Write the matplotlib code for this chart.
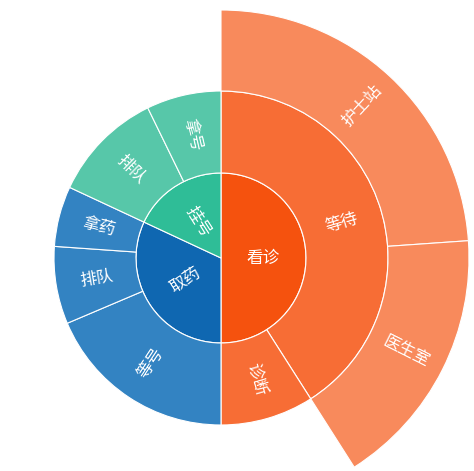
import matplotlib.pyplot as plt
from matplotlib.patches import Wedge
import numpy as np

plt.rcParams['font.family'] = ['Noto Sans CJK SC', 'DejaVu Sans']

# 数据(顺时针,从正上方开始)
inner_names = ['看诊', '取药', '挂号']
inner_values = [180, 115, 65]
inner_colors = ['#f5520e', '#0f67b1', '#2fbd97']

mid_names = ['等待', '诊断', '等号', '排队', '拿药', '排队', '拿号']
mid_values = [147.5, 32.5, 67, 27, 21, 39, 26]
mid_colors = ['#f76d35', '#f76d35', '#3383c2', '#3383c2', '#3383c2', '#57c7a9', '#57c7a9']

outer_names = ['护士站', '医生室']
outer_values = [86, 61.5]
outer_color = '#f88a5c'

cx, cy = 221, 471 - 258
r1, r2, r3 = 85, 167, 248

fig = plt.figure(figsize=(4.74, 4.71), dpi=100)
ax = fig.add_axes([0, 0, 1, 1])
ax.set_xlim(0, 474)
ax.set_ylim(0, 471)
ax.set_aspect('equal')
ax.axis('off')


def draw_ring(names, values, colors, r_in, r_out, start=90, fontsize=12):
    a = start
    for name, v, c in zip(names, values, colors):
        t1, t2 = a - v, a
        ax.add_patch(Wedge((cx, cy), r_out, t1, t2, width=r_out - r_in,
                           facecolor=c, edgecolor='white', linewidth=0.8))
        mid = (t1 + t2) / 2
        rr = (r_in + r_out) / 2
        x = cx + rr * np.cos(np.radians(mid))
        y = cy + rr * np.sin(np.radians(mid))
        rot = mid % 360
        if 90 < rot < 270:
            rot -= 180
        ax.text(x, y, name, rotation=rot, rotation_mode='anchor',
                ha='center', va='center', color='white', fontsize=fontsize)
        a = t1


draw_ring(inner_names, inner_values, inner_colors, 0, r1)
draw_ring(mid_names, mid_values, mid_colors, r1, r2)
draw_ring(outer_names, outer_values, [outer_color] * 2, r2, r3)

plt.savefig('out.png', dpi=100)
